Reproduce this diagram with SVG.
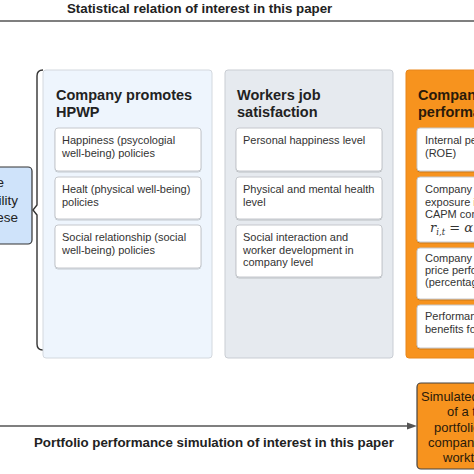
<svg xmlns="http://www.w3.org/2000/svg" width="474" height="474" viewBox="0 0 474 474">
<style>
text{font-family:"Liberation Sans",Arial,sans-serif;fill:#222}
.hd{font-size:13.3px;font-weight:bold}
.ttl{font-size:14.5px;font-weight:bold}
.t{font-size:11px;fill:#333}
.col1{fill:#eef5fd;stroke:#d3d8de;stroke-width:1}
.col2{fill:#e6eaef;stroke:#c9cdd3;stroke-width:1}
.col3{fill:#f7931e;stroke:#e8861a;stroke-width:1}
.sub{fill:#fff;stroke:#c4c7cc;stroke-width:1}
.ln{stroke:#555;stroke-width:1.5;fill:none}
.big{font-size:13.5px;fill:#222}
.ob{font-size:13px;fill:#2a1a0a}
</style>
<defs>
<filter id="sh" x="-10%" y="-10%" width="120%" height="130%">
<feDropShadow dx="0" dy="1" stdDeviation="0.6" flood-color="#000" flood-opacity="0.18"/>
</filter>
</defs>

<g id="header">
<text class="hd" x="67" y="12.5">Statistical relation of interest in this paper</text>
</g>

<g id="connectors">
<line class="ln" x1="0" y1="21" x2="474" y2="21"/>
<line class="ln" x1="0" y1="426" x2="408" y2="426"/>
<polygon points="407,422.5 417,426 407,429.5" fill="#555"/>
<path d="M43,70 Q37,70 37,76 L37,205 L33,210 L37,215 L37,344 Q37,350 43,350" fill="none" stroke="#333" stroke-width="1.4"/>
</g>

<g id="hypothesis">
<rect x="-40" y="167" width="72" height="77" rx="4" fill="#cfe3fa" stroke="#333" stroke-width="1.2"/>
<text class="big" x="4" y="187" text-anchor="end">The</text>
<text class="big" x="18" y="204.5" text-anchor="end">possibility</text>
<text class="big" x="18" y="222" text-anchor="end">hypothese</text>
</g>

<g id="col-hpwp">
<rect class="col1" x="43" y="70" width="169" height="288" rx="3"/>
<text class="ttl" x="56" y="100">Company promotes</text>
<text class="ttl" x="56" y="117">HPWP</text>
<g filter="url(#sh)">
<rect class="sub" x="55" y="128" width="146" height="43" rx="3"/>
<rect class="sub" x="55" y="177" width="146" height="42" rx="3"/>
<rect class="sub" x="55" y="225" width="146" height="43" rx="3"/>
</g>
<text class="t" x="62" y="144">Happiness (psycologial</text>
<text class="t" x="62" y="156.5">well-being) policies</text>
<text class="t" x="62" y="193">Healt (physical well-being)</text>
<text class="t" x="62" y="205.5">policies</text>
<text class="t" x="62" y="241">Social relationship (social</text>
<text class="t" x="62" y="253.5">well-being) policies</text>
</g>

<g id="col-satisfaction">
<rect class="col2" x="225" y="70" width="168" height="288" rx="3"/>
<text class="ttl" x="237" y="100">Workers job</text>
<text class="ttl" x="237" y="117">satisfaction</text>
<g filter="url(#sh)">
<rect class="sub" x="236" y="128" width="146" height="43" rx="3"/>
<rect class="sub" x="236" y="177" width="146" height="42" rx="3"/>
<rect class="sub" x="236" y="225" width="146" height="52" rx="3"/>
</g>
<text class="t" x="243" y="144">Personal happiness level</text>
<text class="t" x="243" y="193">Physical and mental health</text>
<text class="t" x="243" y="205.5">level</text>
<text class="t" x="243" y="241">Social interaction and</text>
<text class="t" x="243" y="253.5">worker development in</text>
<text class="t" x="243" y="266">company level</text>
</g>

<g id="col-performance">
<rect class="col3" x="406" y="70" width="120" height="288" rx="3"/>
<text class="ttl" x="418" y="100" style="fill:#2a1a0a">Company</text>
<text class="ttl" x="418" y="117" style="fill:#2a1a0a">performance</text>
<g filter="url(#sh)">
<rect class="sub" x="417" y="128" width="100" height="43" rx="3"/>
<rect class="sub" x="417" y="177" width="100" height="65" rx="3"/>
<rect class="sub" x="417" y="248" width="100" height="51" rx="3"/>
<rect class="sub" x="417" y="305" width="100" height="43" rx="3"/>
</g>
<text class="t" x="425" y="144">Internal performance</text>
<text class="t" x="425" y="156.5">(ROE)</text>
<text class="t" x="425" y="193">Company risk</text>
<text class="t" x="425" y="205.5">exposure in</text>
<text class="t" x="425" y="218">CAPM context</text>
<text x="430" y="232" style="font-family:'DejaVu Serif','Liberation Serif',serif;font-size:13px;fill:#333"><tspan font-style="italic">r</tspan><tspan font-style="italic" font-size="8.5px" dy="3">i,t</tspan><tspan dy="-3"> = </tspan><tspan font-style="italic">α</tspan></text>
<text class="t" x="425" y="262">Company stock</text>
<text class="t" x="425" y="274">price performance</text>
<text class="t" x="425" y="286">(percentage)</text>
<text class="t" x="425" y="320">Performance</text>
<text class="t" x="425" y="332.5">benefits for</text>
</g>

<g id="footer">
<text class="hd" x="34" y="446.5">Portfolio performance simulation of interest in this paper</text>
</g>

<g id="simulated">
<rect x="417" y="383" width="110" height="86" rx="4" fill="#f7931e" stroke="#444" stroke-width="1.2"/>
<text class="ob" x="421" y="401">Simulated return</text>
<text class="ob" x="447" y="415.5">of a theoretical</text>
<text class="ob" x="434" y="432">portfolio of</text>
<text class="ob" x="428" y="447">companies with</text>
<text class="ob" x="443" y="462">worktime</text>
</g>
</svg>
